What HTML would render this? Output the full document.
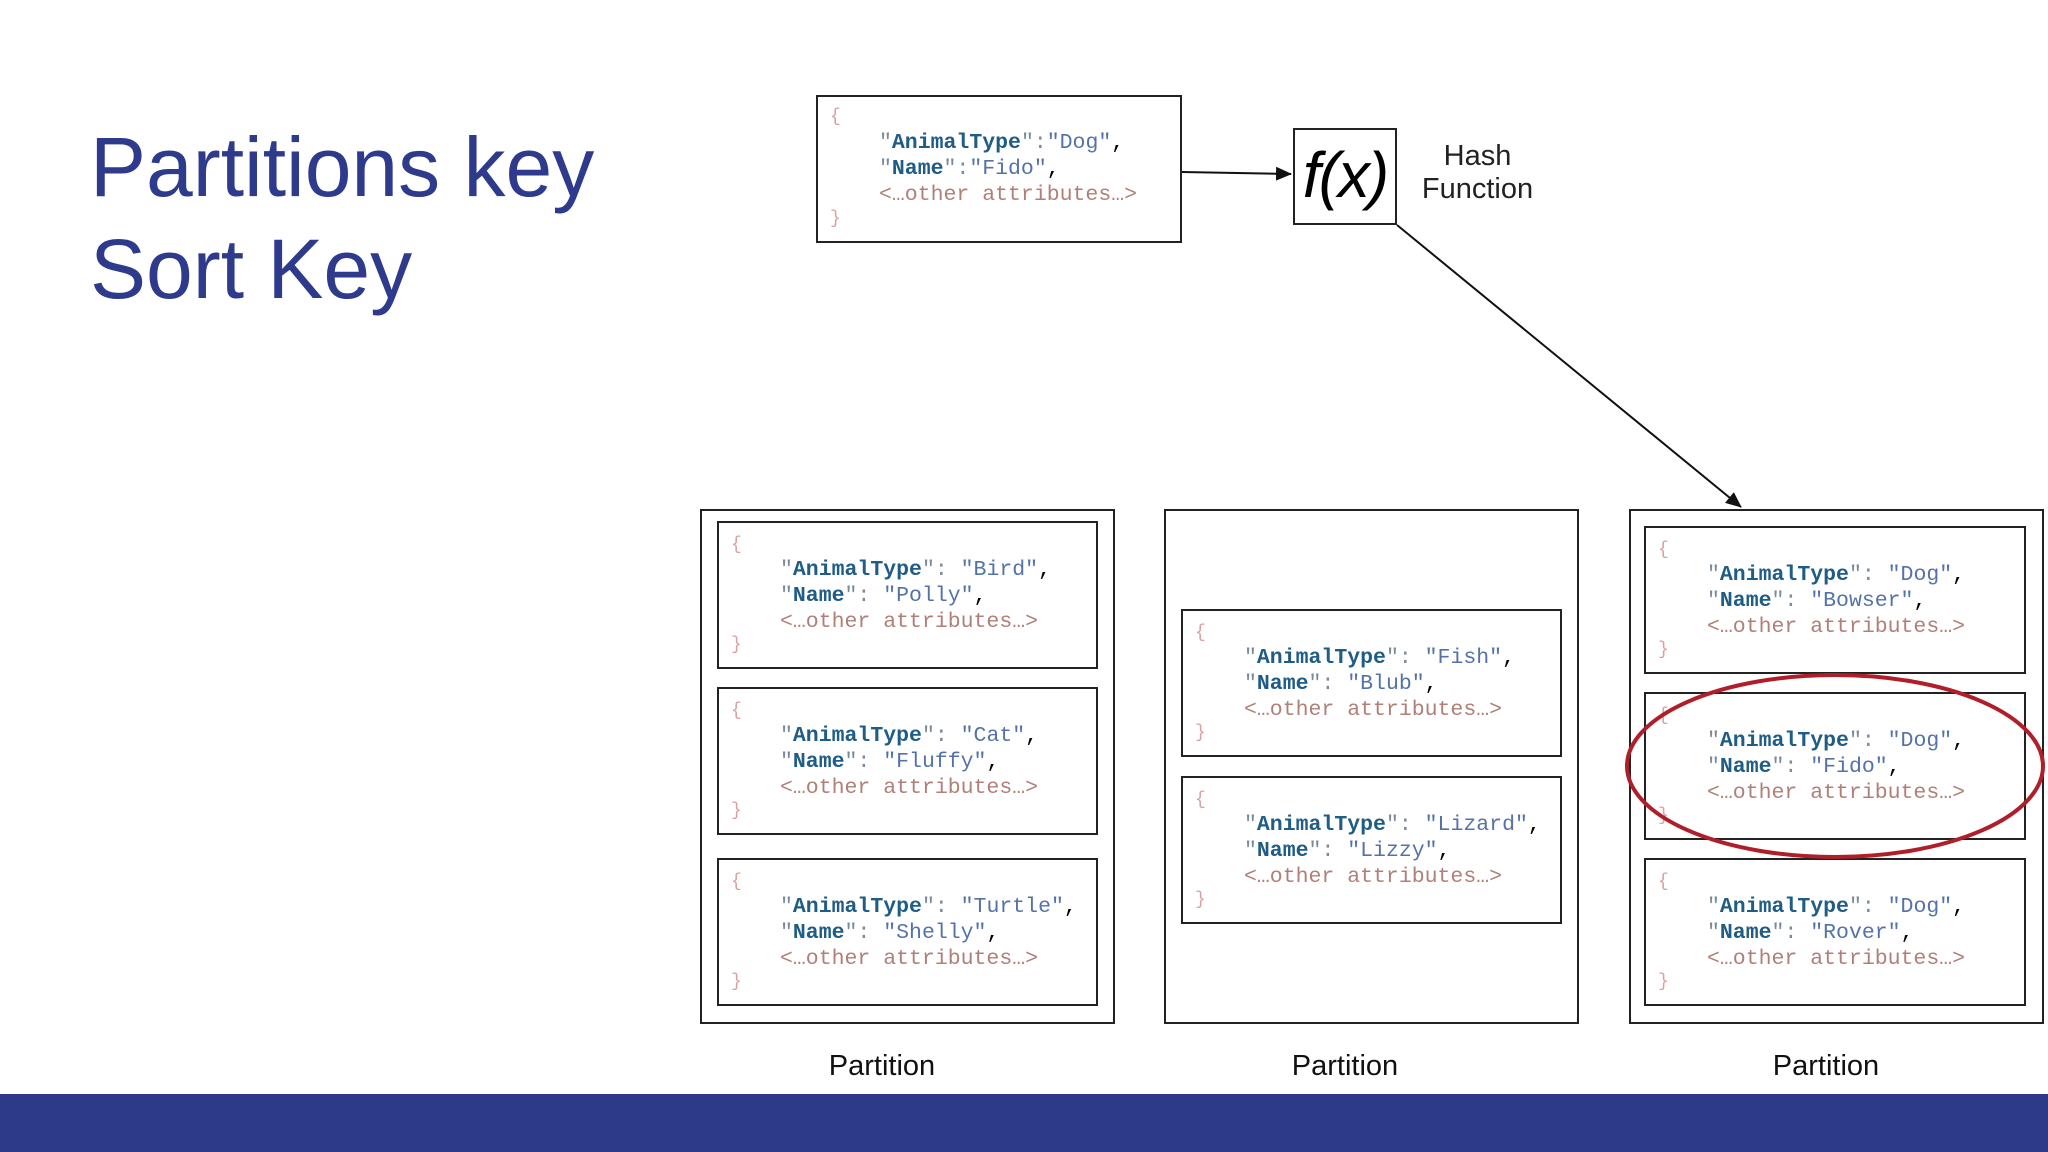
<!DOCTYPE html>
<html><head><meta charset="utf-8"><style>
body{margin:0;width:2048px;height:1152px;background:#fff;position:relative;overflow:hidden;font-family:"Liberation Sans",sans-serif}
.a{position:absolute}
.box{position:absolute;border:2px solid #222;box-sizing:border-box;background:#fff}
.rec{position:absolute;border:2px solid #222;box-sizing:border-box;background:#fff;font-family:"Liberation Mono",monospace;font-size:21.5px}
.rec .br{position:absolute;left:12px;color:#d9a0a0;font-size:18px}
.rec .ln{position:absolute;left:61px;white-space:pre;line-height:26px}
.k{color:#1f5c86;font-weight:bold}
.q{color:#7a8a9a}
.v{color:#5572a8}
.o{color:#b08078}
.title{color:#2e3a8c;font-size:84px;line-height:1}
.lab{position:absolute;font-size:29px;color:#111;transform:translateX(-50%)}
</style></head><body>
<div class="a title" style="left:90px;top:125px">Partitions key</div>
<div class="a title" style="left:90px;top:227px">Sort Key</div>

<div class="rec" style="left:816px;top:95px;width:366px;height:148px">
<div class="br" style="top:10px">{</div>
<div class="ln" style="top:33px"><span class="q">"</span><span class="k">AnimalType</span><span class="q">":</span><span class="v">"Dog"</span>,</div>
<div class="ln" style="top:59px"><span class="q">"</span><span class="k">Name</span><span class="q">":</span><span class="v">"Fido"</span>,</div>
<div class="ln o" style="top:85px">&lt;…other attributes…&gt;</div>
<div class="br" style="top:112px">}</div>
</div>

<div class="box" style="left:1293px;top:128px;width:104px;height:97px"></div>
<div class="a" style="left:1293px;top:130px;width:104px;text-align:center;font-size:64px;font-style:italic;line-height:90px;letter-spacing:-2px">f(x)</div>
<div class="a" style="left:1420px;top:140px;width:115px;text-align:center;font-size:29px;line-height:33px;color:#222">Hash<br>Function</div>

<svg class="a" style="left:0;top:0" width="2048" height="1152">
<defs><marker id="ar2" markerWidth="16" markerHeight="14" refX="15" refY="7" orient="auto" markerUnits="userSpaceOnUse"><path d="M0,0 L16,7 L0,14 Z" fill="#111"/></marker></defs>
<line x1="1182" y1="172" x2="1291" y2="174" stroke="#111" stroke-width="2" marker-end="url(#ar2)"/>
<line x1="1397" y1="225" x2="1741" y2="507" stroke="#111" stroke-width="2" marker-end="url(#ar2)"/>
</svg>

<div class="box" style="left:700px;top:509px;width:415px;height:515px"></div>
<div class="box" style="left:1164px;top:509px;width:415px;height:515px"></div>
<div class="box" style="left:1629px;top:509px;width:415px;height:515px"></div>

<div class="rec" style="left:717px;top:521px;width:381px;height:148px">
<div class="br" style="top:12px">{</div>
<div class="ln" style="top:34px"><span class="q">"</span><span class="k">AnimalType</span><span class="q">": </span><span class="v">"Bird"</span>,</div>
<div class="ln" style="top:60px"><span class="q">"</span><span class="k">Name</span><span class="q">": </span><span class="v">"Polly"</span>,</div>
<div class="ln o" style="top:86px">&lt;…other attributes…&gt;</div>
<div class="br" style="top:112px">}</div></div>
<div class="rec" style="left:717px;top:687px;width:381px;height:148px">
<div class="br" style="top:12px">{</div>
<div class="ln" style="top:34px"><span class="q">"</span><span class="k">AnimalType</span><span class="q">": </span><span class="v">"Cat"</span>,</div>
<div class="ln" style="top:60px"><span class="q">"</span><span class="k">Name</span><span class="q">": </span><span class="v">"Fluffy"</span>,</div>
<div class="ln o" style="top:86px">&lt;…other attributes…&gt;</div>
<div class="br" style="top:112px">}</div></div>
<div class="rec" style="left:717px;top:858px;width:381px;height:148px">
<div class="br" style="top:12px">{</div>
<div class="ln" style="top:34px"><span class="q">"</span><span class="k">AnimalType</span><span class="q">": </span><span class="v">"Turtle"</span>,</div>
<div class="ln" style="top:60px"><span class="q">"</span><span class="k">Name</span><span class="q">": </span><span class="v">"Shelly"</span>,</div>
<div class="ln o" style="top:86px">&lt;…other attributes…&gt;</div>
<div class="br" style="top:112px">}</div></div>

<div class="rec" style="left:1181px;top:609px;width:381px;height:148px">
<div class="br" style="top:12px">{</div>
<div class="ln" style="top:34px"><span class="q">"</span><span class="k">AnimalType</span><span class="q">": </span><span class="v">"Fish"</span>,</div>
<div class="ln" style="top:60px"><span class="q">"</span><span class="k">Name</span><span class="q">": </span><span class="v">"Blub"</span>,</div>
<div class="ln o" style="top:86px">&lt;…other attributes…&gt;</div>
<div class="br" style="top:112px">}</div></div>
<div class="rec" style="left:1181px;top:776px;width:381px;height:148px">
<div class="br" style="top:12px">{</div>
<div class="ln" style="top:34px"><span class="q">"</span><span class="k">AnimalType</span><span class="q">": </span><span class="v">"Lizard"</span>,</div>
<div class="ln" style="top:60px"><span class="q">"</span><span class="k">Name</span><span class="q">": </span><span class="v">"Lizzy"</span>,</div>
<div class="ln o" style="top:86px">&lt;…other attributes…&gt;</div>
<div class="br" style="top:112px">}</div></div>

<div class="rec" style="left:1644px;top:526px;width:382px;height:148px">
<div class="br" style="top:12px">{</div>
<div class="ln" style="top:34px"><span class="q">"</span><span class="k">AnimalType</span><span class="q">": </span><span class="v">"Dog"</span>,</div>
<div class="ln" style="top:60px"><span class="q">"</span><span class="k">Name</span><span class="q">": </span><span class="v">"Bowser"</span>,</div>
<div class="ln o" style="top:86px">&lt;…other attributes…&gt;</div>
<div class="br" style="top:112px">}</div></div>
<div class="rec" style="left:1644px;top:692px;width:382px;height:148px">
<div class="br" style="top:12px">{</div>
<div class="ln" style="top:34px"><span class="q">"</span><span class="k">AnimalType</span><span class="q">": </span><span class="v">"Dog"</span>,</div>
<div class="ln" style="top:60px"><span class="q">"</span><span class="k">Name</span><span class="q">": </span><span class="v">"Fido"</span>,</div>
<div class="ln o" style="top:86px">&lt;…other attributes…&gt;</div>
<div class="br" style="top:112px">}</div></div>
<div class="rec" style="left:1644px;top:858px;width:382px;height:148px">
<div class="br" style="top:12px">{</div>
<div class="ln" style="top:34px"><span class="q">"</span><span class="k">AnimalType</span><span class="q">": </span><span class="v">"Dog"</span>,</div>
<div class="ln" style="top:60px"><span class="q">"</span><span class="k">Name</span><span class="q">": </span><span class="v">"Rover"</span>,</div>
<div class="ln o" style="top:86px">&lt;…other attributes…&gt;</div>
<div class="br" style="top:112px">}</div></div>

<svg class="a" style="left:0;top:0" width="2048" height="1152">
<ellipse cx="1835" cy="766" rx="208" ry="91" fill="none" stroke="#b01e2a" stroke-width="4"/>
</svg>

<div class="lab" style="left:882px;top:1050px">Partition</div>
<div class="lab" style="left:1345px;top:1050px">Partition</div>
<div class="lab" style="left:1826px;top:1050px">Partition</div>

<div class="a" style="left:0;top:1094px;width:2048px;height:58px;background:#2d3a8a"></div>
</body></html>
